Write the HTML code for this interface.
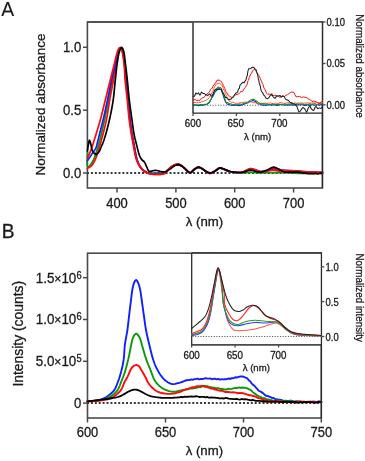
<!DOCTYPE html>
<html><head><meta charset="utf-8">
<style>
html,body{margin:0;padding:0;background:#fff;}
body{width:365px;height:461px;overflow:hidden;position:relative;}
svg{position:absolute;left:0;top:0;}
text{font-family:"Liberation Sans",sans-serif;fill:#1a1a1a;stroke:#1a1a1a;stroke-width:0.3px;}
svg{will-change:transform;}
</style></head>
<body>
<svg width="365" height="461" viewBox="0 0 365 461">
<rect width="365" height="461" fill="#fff"/>
<rect x="87.4" y="22" width="235.1" height="166" fill="none" stroke="#4a4a4a" stroke-width="1.6"/>
<line x1="83" y1="173.0" x2="87.6" y2="173.0" stroke="#4a4a4a" stroke-width="1.5"/>
<line x1="83" y1="110.2" x2="87.6" y2="110.2" stroke="#4a4a4a" stroke-width="1.5"/>
<line x1="83" y1="47.3" x2="87.6" y2="47.3" stroke="#4a4a4a" stroke-width="1.5"/>
<line x1="117.0" y1="188" x2="117.0" y2="192.5" stroke="#4a4a4a" stroke-width="1.5"/>
<line x1="175.9" y1="188" x2="175.9" y2="192.5" stroke="#4a4a4a" stroke-width="1.5"/>
<line x1="234.7" y1="188" x2="234.7" y2="192.5" stroke="#4a4a4a" stroke-width="1.5"/>
<line x1="293.6" y1="188" x2="293.6" y2="192.5" stroke="#4a4a4a" stroke-width="1.5"/>
<line x1="87" y1="173" x2="322" y2="173" stroke="#3a3a3a" stroke-width="2" stroke-dasharray="2 1.93"/>
<path d="M87.60,152.20 C87.60,157.00 86.33,165.78 87.60,166.60 C88.12,166.93 89.06,166.23 89.80,165.60 C91.03,164.55 92.56,161.84 93.50,160.00 C94.32,158.41 94.61,157.33 95.30,155.30 C96.52,151.68 98.36,145.46 99.80,140.00 C101.44,133.80 103.03,126.68 104.50,120.00 C105.96,113.34 107.27,106.67 108.60,100.00 C109.93,93.34 111.18,86.49 112.50,80.00 C113.75,73.84 115.24,67.27 116.30,62.00 C117.13,57.89 117.46,53.57 118.40,51.00 C118.95,49.48 119.63,47.63 120.30,47.60 C120.94,47.57 121.74,49.13 122.30,50.50 C123.32,52.99 123.75,57.73 124.30,62.00 C124.98,67.32 125.21,73.85 125.80,80.00 C126.43,86.50 127.30,93.33 128.00,100.00 C128.70,106.66 129.28,113.82 130.00,120.00 C130.63,125.36 131.28,130.65 132.00,135.00 C132.56,138.39 133.11,140.57 133.80,144.00 C134.71,148.57 135.59,155.82 137.00,160.00 C137.97,162.88 139.02,165.06 140.40,167.00 C141.61,168.70 143.04,170.19 144.60,171.20 C146.03,172.13 147.54,172.65 149.30,173.00 C151.39,173.42 154.17,173.17 156.40,173.20 C158.38,173.23 160.43,173.30 162.00,173.20 C163.16,173.12 164.09,173.24 165.00,172.80 C166.01,172.31 166.62,171.14 167.70,170.20 C169.15,168.94 171.13,166.94 173.00,166.00 C174.68,165.16 176.77,164.52 178.30,164.60 C179.51,164.66 180.54,165.25 181.50,165.80 C182.43,166.33 182.99,166.98 184.00,167.80 C185.59,169.09 188.29,172.79 190.10,172.80 C191.54,172.81 192.62,170.62 194.00,169.70 C195.39,168.78 197.04,167.39 198.40,167.30 C199.51,167.23 200.40,167.94 201.50,168.50 C202.89,169.21 204.52,170.57 206.00,171.40 C207.35,172.15 208.59,173.29 210.00,173.30 C211.57,173.31 213.39,171.88 215.00,171.00 C216.62,170.11 218.17,168.20 219.70,168.00 C220.99,167.83 222.10,168.71 223.50,169.20 C225.28,169.82 227.43,170.93 229.50,171.50 C231.60,172.07 233.79,172.38 236.00,172.60 C238.26,172.82 240.55,172.83 242.90,172.80 C245.37,172.77 247.80,172.40 250.50,172.40 C253.58,172.40 256.86,172.85 260.40,172.90 C264.48,172.96 269.69,172.64 273.60,172.60 C276.71,172.56 278.73,172.53 282.00,172.60 C286.58,172.70 292.48,173.17 298.50,173.30 C305.75,173.45 314.50,173.30 322.50,173.30" fill="none" stroke="#0a9a0a" stroke-width="1.7" stroke-linejoin="round" stroke-linecap="round"/>
<path d="M87.40,168.50 C88.67,167.73 90.05,167.34 91.20,166.20 C92.67,164.74 94.03,161.94 95.00,160.00 C95.80,158.42 96.12,157.47 96.80,155.50 C98.05,151.90 99.89,145.51 101.40,140.00 C103.10,133.77 105.01,126.70 106.40,120.00 C107.78,113.36 108.52,106.66 109.70,100.00 C110.88,93.33 112.32,86.50 113.50,80.00 C114.61,73.85 115.67,67.26 116.60,62.00 C117.33,57.88 117.68,53.57 118.60,51.00 C119.14,49.48 119.83,47.63 120.50,47.60 C121.14,47.57 121.95,49.13 122.50,50.50 C123.51,52.99 123.86,57.73 124.40,62.00 C125.07,67.32 125.39,73.85 126.00,80.00 C126.65,86.49 127.50,93.33 128.20,100.00 C128.90,106.66 129.48,113.82 130.20,120.00 C130.83,125.36 131.48,130.65 132.20,135.00 C132.76,138.39 133.31,140.57 134.00,144.00 C134.91,148.57 135.82,155.82 137.20,160.00 C138.15,162.88 139.15,165.05 140.50,167.00 C141.68,168.69 143.09,170.05 144.60,171.20 C146.04,172.30 147.51,173.27 149.30,173.80 C151.37,174.41 154.17,174.24 156.40,174.30 C158.38,174.35 160.44,174.44 162.00,174.20 C163.17,174.02 164.11,173.90 165.00,173.30 C166.04,172.60 166.58,171.11 167.70,170.00 C169.11,168.61 171.17,166.78 173.00,165.80 C174.62,164.94 176.49,164.13 178.00,164.20 C179.28,164.26 180.46,165.10 181.50,165.70 C182.44,166.25 183.00,166.79 184.00,167.60 C185.60,168.89 188.29,172.78 190.10,172.80 C191.54,172.81 192.63,170.54 194.00,169.60 C195.34,168.68 196.86,167.31 198.20,167.20 C199.34,167.10 200.35,167.82 201.50,168.40 C202.93,169.12 204.52,170.52 206.00,171.40 C207.35,172.20 208.59,173.49 210.00,173.50 C211.57,173.52 213.40,171.93 215.00,171.00 C216.57,170.09 217.99,168.24 219.50,168.00 C220.82,167.79 222.05,168.61 223.50,169.10 C225.31,169.71 227.43,170.95 229.50,171.50 C231.59,172.05 233.80,172.25 236.00,172.40 C238.26,172.56 240.57,172.76 242.90,172.40 C245.40,172.01 247.78,170.15 250.50,170.00 C253.56,169.84 256.85,171.89 260.40,172.00 C264.47,172.13 269.70,170.16 273.60,170.20 C276.72,170.23 278.66,171.20 282.00,171.50 C286.86,171.94 293.67,171.84 300.00,172.00 C307.08,172.18 315.00,172.33 322.50,172.50" fill="none" stroke="#ff0a0a" stroke-width="1.7" stroke-linejoin="round" stroke-linecap="round"/>
<path d="M87.60,160.50 C89.03,158.33 90.49,156.12 91.90,154.00 C93.26,151.96 94.91,150.20 95.90,148.00 C96.93,145.72 97.09,143.62 97.90,140.50 C99.24,135.35 101.49,126.80 103.10,120.00 C104.69,113.30 106.10,106.67 107.50,100.00 C108.90,93.34 110.08,86.48 111.50,80.00 C112.85,73.83 114.60,67.27 115.80,62.00 C116.74,57.89 117.20,53.57 118.20,51.00 C118.79,49.48 119.51,47.62 120.20,47.60 C120.85,47.58 121.64,49.13 122.20,50.50 C123.22,52.99 123.66,57.72 124.20,62.00 C124.87,67.32 125.02,73.85 125.60,80.00 C126.21,86.50 127.10,93.33 127.80,100.00 C128.50,106.66 129.06,113.82 129.80,120.00 C130.44,125.37 131.18,130.64 131.90,135.00 C132.46,138.39 132.92,140.57 133.60,144.00 C134.50,148.57 135.48,155.82 136.90,160.00 C137.88,162.88 138.92,165.06 140.30,167.00 C141.51,168.70 142.94,170.14 144.50,171.20 C145.96,172.20 147.50,172.88 149.30,173.30 C151.40,173.78 154.17,173.57 156.40,173.60 C158.38,173.62 160.43,173.67 162.00,173.50 C163.16,173.37 164.09,173.39 165.00,172.90 C166.01,172.36 166.62,171.17 167.70,170.20 C169.14,168.92 171.13,166.90 173.00,166.00 C174.68,165.20 176.77,164.70 178.30,164.80 C179.51,164.88 180.54,165.45 181.50,166.00 C182.43,166.53 182.98,167.19 184.00,168.00 C185.59,169.26 188.29,172.79 190.10,172.80 C191.54,172.81 192.62,170.68 194.00,169.80 C195.39,168.91 197.04,167.60 198.40,167.50 C199.51,167.42 200.40,168.06 201.50,168.60 C202.90,169.29 204.52,170.66 206.00,171.50 C207.35,172.27 208.59,173.50 210.00,173.50 C211.57,173.50 213.38,171.89 215.00,171.00 C216.61,170.12 218.18,168.40 219.70,168.20 C221.00,168.03 222.10,168.83 223.50,169.30 C225.28,169.90 227.43,171.08 229.50,171.60 C231.59,172.12 233.80,172.30 236.00,172.40 C238.26,172.51 241.10,172.69 242.90,172.20 C244.19,171.85 244.85,171.04 246.00,170.50 C247.34,169.87 249.03,168.82 250.50,168.70 C251.86,168.59 253.05,169.20 254.50,169.60 C256.29,170.09 258.36,171.34 260.40,171.50 C262.52,171.67 264.81,170.96 267.00,170.50 C269.21,170.03 271.61,168.83 273.60,168.70 C275.20,168.60 276.57,169.06 278.00,169.30 C279.37,169.53 280.20,169.86 282.00,170.10 C285.62,170.58 293.40,170.82 298.50,171.20 C302.90,171.53 306.75,172.00 310.80,172.20 C314.75,172.39 318.60,172.33 322.50,172.40" fill="none" stroke="#1020ff" stroke-width="1.7" stroke-linejoin="round" stroke-linecap="round"/>
<path d="M87.60,157.90 C88.80,155.13 90.11,152.49 91.20,149.60 C92.35,146.54 93.12,143.79 94.30,140.00 C96.00,134.55 98.46,126.69 100.30,120.00 C102.13,113.35 103.63,106.67 105.30,100.00 C106.97,93.33 108.68,86.49 110.30,80.00 C111.84,73.84 113.48,67.19 114.80,62.00 C115.81,58.03 116.51,54.11 117.50,51.50 C118.13,49.84 118.77,47.68 119.50,47.60 C120.12,47.53 120.92,48.79 121.50,50.00 C122.65,52.39 123.31,57.57 123.90,62.00 C124.61,67.37 124.56,73.85 125.10,80.00 C125.67,86.50 126.62,93.33 127.30,100.00 C127.98,106.66 128.43,113.82 129.20,120.00 C129.87,125.37 130.78,130.64 131.50,135.00 C132.06,138.38 132.43,140.58 133.10,144.00 C133.99,148.58 135.04,155.83 136.50,160.00 C137.51,162.89 138.61,165.05 140.00,167.00 C141.20,168.69 142.55,170.07 144.10,171.20 C145.65,172.33 147.37,173.26 149.30,173.80 C151.43,174.40 154.17,174.35 156.40,174.40 C158.38,174.45 160.44,174.46 162.00,174.20 C163.17,174.01 164.11,173.90 165.00,173.30 C166.04,172.60 166.59,171.13 167.70,170.00 C169.12,168.55 171.15,166.53 173.00,165.50 C174.61,164.61 176.50,163.81 178.00,163.90 C179.29,163.98 180.47,164.86 181.50,165.50 C182.44,166.08 182.99,166.66 184.00,167.50 C185.60,168.83 188.29,172.79 190.10,172.80 C191.54,172.81 192.63,170.47 194.00,169.50 C195.34,168.55 196.86,167.11 198.20,167.00 C199.34,166.91 200.35,167.69 201.50,168.30 C202.93,169.06 204.52,170.50 206.00,171.40 C207.35,172.21 208.59,173.49 210.00,173.50 C211.57,173.52 213.41,171.95 215.00,171.00 C216.58,170.05 217.98,168.05 219.50,167.80 C220.82,167.58 222.05,168.48 223.50,169.00 C225.31,169.65 227.42,170.97 229.50,171.50 C231.59,172.03 233.80,172.11 236.00,172.20 C238.26,172.29 241.09,172.44 242.90,172.00 C244.18,171.69 244.87,171.03 246.00,170.50 C247.36,169.87 249.02,168.63 250.50,168.50 C251.85,168.38 253.05,169.07 254.50,169.50 C256.29,170.02 258.36,171.32 260.40,171.50 C262.52,171.69 264.82,170.99 267.00,170.50 C269.22,170.00 271.61,168.64 273.60,168.50 C275.20,168.39 276.57,168.94 278.00,169.20 C279.37,169.45 280.20,169.76 282.00,170.00 C285.62,170.48 293.40,170.72 298.50,171.10 C302.90,171.43 306.75,171.90 310.80,172.10 C314.75,172.29 318.60,172.23 322.50,172.30" fill="none" stroke="#ff0a0a" stroke-width="1.7" stroke-linejoin="round" stroke-linecap="round"/>
<path d="M87.40,151.00 L87.61,149.48 L87.82,147.96 L88.04,146.45 L88.30,145.00 L88.66,143.01 L89.07,141.08 L89.50,140.20 L90.14,141.55 L90.80,144.00 L91.15,145.54 L91.46,147.25 L91.82,148.93 L92.30,150.40 L93.38,152.29 L94.60,153.70 L96.30,154.60 L98.50,152.60 L99.30,151.28 L100.00,149.80 L100.79,148.00 L101.60,146.00 L102.16,144.68 L102.74,143.32 L103.36,141.79 L104.00,140.00 L104.37,138.85 L104.77,137.58 L105.18,136.20 L105.61,134.73 L106.05,133.18 L106.49,131.57 L106.93,129.92 L107.37,128.25 L107.81,126.56 L108.23,124.87 L108.64,123.21 L109.03,121.58 L109.40,120.00 L109.75,118.47 L110.09,116.93 L110.42,115.40 L110.74,113.86 L111.05,112.33 L111.35,110.79 L111.65,109.25 L111.93,107.71 L112.21,106.17 L112.47,104.63 L112.72,103.09 L112.97,101.54 L113.20,100.00 L113.42,98.46 L113.61,96.92 L113.80,95.37 L113.97,93.82 L114.12,92.27 L114.27,90.72 L114.42,89.17 L114.56,87.62 L114.70,86.08 L114.84,84.55 L114.99,83.02 L115.14,81.50 L115.30,80.00 L115.47,78.45 L115.63,76.89 L115.80,75.33 L115.96,73.76 L116.13,72.20 L116.29,70.66 L116.46,69.13 L116.64,67.63 L116.82,66.16 L117.00,64.73 L117.20,63.34 L117.40,62.00 L117.68,60.23 L117.95,58.47 L118.23,56.76 L118.52,55.13 L118.84,53.60 L119.20,52.21 L119.60,51.00 L120.63,48.60 L121.70,47.40 L122.70,48.61 L123.60,51.00 L123.93,52.22 L124.20,53.60 L124.42,55.13 L124.61,56.77 L124.80,58.48 L124.99,60.23 L125.20,62.00 L125.37,63.34 L125.55,64.73 L125.73,66.17 L125.90,67.64 L126.08,69.14 L126.26,70.66 L126.44,72.21 L126.61,73.76 L126.79,75.33 L126.96,76.89 L127.13,78.45 L127.30,80.00 L127.46,81.50 L127.61,83.02 L127.76,84.54 L127.91,86.08 L128.05,87.62 L128.20,89.16 L128.34,90.71 L128.49,92.26 L128.64,93.81 L128.80,95.37 L128.96,96.91 L129.12,98.46 L129.30,100.00 L129.49,101.55 L129.68,103.11 L129.88,104.68 L130.09,106.25 L130.30,107.83 L130.51,109.40 L130.73,110.96 L130.94,112.52 L131.16,114.06 L131.37,115.58 L131.59,117.08 L131.80,118.56 L132.00,120.00 L132.22,121.61 L132.44,123.20 L132.65,124.78 L132.86,126.34 L133.07,127.88 L133.28,129.39 L133.49,130.86 L133.72,132.29 L133.95,133.67 L134.20,135.00 L134.54,136.63 L134.88,138.14 L135.24,139.58 L135.61,141.01 L136.00,142.47 L136.40,144.00 L136.80,145.62 L137.21,147.35 L137.64,149.13 L138.08,150.89 L138.53,152.58 L139.01,154.14 L139.50,155.50 L140.29,157.28 L141.12,158.79 L142.00,160.00 L144.00,161.50 L144.94,163.01 L145.83,164.93 L146.70,166.80 L147.44,168.54 L148.16,170.24 L149.00,171.30 L151.00,171.20 L152.40,170.90 L154.01,170.49 L155.60,170.30 L157.06,170.51 L158.51,170.94 L160.00,171.30 L161.64,171.62 L163.33,171.88 L165.00,171.80 L166.40,171.30 L167.80,170.51 L169.18,169.59 L170.50,168.70 L172.05,167.57 L173.53,166.41 L175.00,165.50 L176.87,164.79 L178.70,164.60 L180.42,165.22 L182.00,166.20 L184.20,168.00 L185.25,168.97 L186.50,170.23 L187.83,171.49 L189.14,172.44 L190.30,172.80 L191.58,172.13 L192.75,170.76 L194.00,169.50 L195.49,168.46 L197.08,167.54 L198.60,167.10 L200.32,167.54 L202.00,168.50 L203.34,169.42 L204.70,170.49 L206.10,171.40 L208.11,172.35 L210.20,172.80 L211.78,172.56 L213.40,171.96 L215.00,171.20 L216.66,170.04 L218.28,168.69 L219.90,167.90 L221.92,168.18 L224.00,169.00 L225.35,169.51 L226.77,170.10 L228.22,170.70 L229.70,171.20 L231.23,171.61 L232.80,171.95 L234.39,172.22 L236.00,172.40 L237.69,172.49 L239.41,172.50 L241.15,172.40 L242.90,172.20 L244.44,171.84 L246.02,171.31 L247.59,170.75 L249.10,170.30 L250.50,170.10 L252.07,170.30 L253.51,170.76 L255.00,171.20 L256.75,171.65 L258.55,172.08 L260.40,172.20 L262.01,171.91 L263.67,171.35 L265.34,170.67 L267.00,170.00 L268.69,169.22 L270.39,168.31 L272.04,167.54 L273.60,167.20 L275.11,167.45 L276.53,168.08 L278.00,168.80 L279.31,169.49 L280.61,170.30 L282.04,171.13 L283.70,171.76 L285.03,171.90 L286.52,172.24 L288.14,172.26 L289.85,172.02 L291.61,172.47 L293.40,172.05 L295.16,172.06 L296.88,172.17 L298.50,172.36 L300.10,172.18 L301.66,172.74 L303.21,173.04 L304.74,173.02 L306.26,173.41 L307.77,173.46 L309.28,173.74 L310.80,173.38 L312.49,173.54 L314.16,173.61 L315.83,173.30 L317.50,173.84 L319.16,173.53 L320.83,173.08 L322.50,173.30" fill="none" stroke="#000000" stroke-width="1.7" stroke-linejoin="round" stroke-linecap="round"/>
<rect x="193" y="22" width="129.5" height="91.2" fill="#fff"/>
<line x1="87.4" y1="22" x2="322.5" y2="22" stroke="#4a4a4a" stroke-width="1.6"/>
<line x1="193" y1="22" x2="193" y2="113.2" stroke="#4a4a4a" stroke-width="1.7"/>
<line x1="193" y1="113.2" x2="322.4" y2="113.2" stroke="#262626" stroke-width="1.25"/>
<line x1="322.4" y1="21.4" x2="322.4" y2="188" stroke="#2a2a2a" stroke-width="1.25"/>
<line x1="193.0" y1="113.2" x2="193.0" y2="116" stroke="#4a4a4a" stroke-width="1.3"/>
<line x1="236.4" y1="113.2" x2="236.4" y2="116" stroke="#4a4a4a" stroke-width="1.3"/>
<line x1="279.8" y1="113.2" x2="279.8" y2="116" stroke="#4a4a4a" stroke-width="1.3"/>
<line x1="322.5" y1="22.0" x2="325.5" y2="22.0" stroke="#4a4a4a" stroke-width="1.3"/>
<line x1="322.5" y1="63.5" x2="325.5" y2="63.5" stroke="#4a4a4a" stroke-width="1.3"/>
<line x1="322.5" y1="104.8" x2="325.5" y2="104.8" stroke="#4a4a4a" stroke-width="1.3"/>
<line x1="194" y1="105.3" x2="322" y2="105.3" stroke="#5a5a5a" stroke-width="1.1" stroke-dasharray="1.1 1.55"/>
<path d="M193.00,105.00 L194.78,105.02 L196.57,105.21 L198.33,105.63 L200.00,105.17 L201.76,105.17 L203.43,105.16 L205.00,104.48 L206.99,104.17 L208.80,103.13 L209.73,102.22 L210.59,100.15 L211.41,98.82 L212.21,97.04 L213.00,96.31 L213.88,94.55 L214.73,92.22 L215.58,91.64 L216.50,90.46 L217.85,89.12 L219.20,88.72 L221.50,90.16 L222.09,91.30 L222.50,93.35 L223.00,94.56 L223.51,96.24 L224.03,98.06 L224.64,99.65 L225.37,101.70 L226.30,102.94 L227.51,104.24 L228.91,104.52 L230.43,105.05 L232.00,105.20 L233.50,105.52 L235.09,105.33 L236.73,105.06 L238.38,105.61 L240.00,105.40 L241.64,104.98 L243.30,104.52 L244.95,103.74 L246.53,103.21 L248.00,102.79 L249.82,101.59 L251.48,101.22 L253.20,100.40 L254.43,101.21 L255.66,101.58 L256.92,103.18 L258.25,104.05 L259.70,103.90 L261.16,104.46 L262.62,105.34 L264.17,104.96 L265.87,105.47 L267.79,104.87 L270.00,104.57 L270.95,105.15 L271.97,105.32 L273.05,104.83 L274.18,104.66 L275.37,104.92 L276.61,105.56 L277.90,105.36 L279.24,104.72 L280.62,104.85 L282.04,104.70 L283.50,104.66 L285.00,105.39 L286.52,104.76 L288.08,105.13 L289.66,105.01 L291.27,104.74 L292.90,105.27 L294.54,104.66 L296.20,105.16 L297.87,104.62 L299.55,104.90 L301.24,104.68 L302.93,104.72 L304.63,105.41 L306.32,105.22 L308.00,104.71 L309.68,105.27 L311.35,104.59 L313.01,104.75 L314.65,105.20 L316.27,104.98 L317.86,104.42 L319.44,105.30 L320.98,104.52 L322.50,104.80" fill="none" stroke="#1020ff" stroke-width="1.05" stroke-linejoin="round" stroke-linecap="round"/>
<path d="M193.30,102.80 L195.00,102.46 L196.72,102.80 L198.40,102.68 L200.00,102.65 L201.76,101.68 L203.43,101.32 L205.00,100.65 L206.42,99.96 L207.74,99.51 L209.00,97.63 L209.78,96.97 L210.53,95.35 L211.27,93.98 L211.99,92.60 L212.68,91.50 L213.35,89.85 L214.00,88.01 L215.02,86.31 L215.98,84.40 L217.00,83.87 L219.20,83.11 L221.50,84.81 L222.19,85.93 L222.80,87.23 L223.39,88.94 L224.00,90.29 L224.59,91.13 L225.21,93.18 L225.82,94.29 L226.42,95.97 L227.00,97.06 L227.84,99.14 L229.00,100.86 L230.23,101.70 L231.78,102.16 L233.44,102.37 L235.00,103.32 L236.63,103.31 L238.22,103.29 L240.00,102.79 L241.47,102.56 L243.08,102.64 L244.79,101.92 L246.54,102.38 L248.30,102.12 L250.00,101.88 L251.63,102.02 L253.21,102.55 L254.78,102.53 L256.41,102.99 L258.13,103.36 L260.00,103.30 L261.31,103.08 L262.70,103.46 L264.14,103.20 L265.64,103.18 L267.19,103.10 L268.77,103.22 L270.37,102.87 L271.99,103.39 L273.62,103.63 L275.24,103.00 L276.85,103.28 L278.44,103.46 L280.00,102.54 L281.54,102.63 L283.07,103.29 L284.59,103.31 L286.12,103.12 L287.64,102.64 L289.16,102.90 L290.69,103.36 L292.22,103.38 L293.76,103.30 L295.30,102.71 L296.86,103.36 L298.42,102.88 L300.00,103.22 L301.46,102.63 L302.93,103.45 L304.42,103.08 L305.91,103.18 L307.40,102.66 L308.90,103.05 L310.41,103.00 L311.92,103.00 L313.44,102.75 L314.95,103.10 L316.47,102.70 L317.98,102.64 L319.49,102.49 L321.00,103.00 L322.50,102.80" fill="none" stroke="#ff5a40" stroke-width="1.0" stroke-linejoin="round" stroke-linecap="round"/>
<path d="M193.00,104.30 L194.78,104.48 L196.57,104.89 L198.33,105.09 L200.00,104.64 L201.76,104.49 L203.44,104.72 L205.00,104.27 L206.99,103.98 L208.80,102.49 L209.73,101.25 L210.59,99.78 L211.41,98.29 L212.21,96.16 L213.00,94.94 L213.89,92.90 L214.72,91.82 L215.58,89.32 L216.50,88.82 L217.85,86.97 L219.20,87.19 L220.43,87.54 L221.50,88.90 L222.30,91.13 L223.00,92.52 L223.43,93.90 L223.86,96.32 L224.32,97.57 L224.85,98.78 L225.50,101.13 L226.30,102.25 L227.50,102.43 L228.90,103.49 L230.42,103.74 L232.00,104.31 L233.49,104.85 L235.07,104.48 L236.71,104.97 L238.36,104.18 L240.00,104.07 L241.49,104.42 L243.04,103.61 L244.60,103.15 L246.11,102.80 L247.52,102.13 L248.80,101.48 L250.38,100.06 L251.74,99.63 L253.20,99.37 L254.39,99.76 L255.60,100.36 L256.88,101.22 L258.23,102.35 L259.70,103.49 L261.20,103.91 L262.78,103.63 L264.45,103.91 L266.20,104.13 L268.05,104.33 L270.00,104.71 L271.31,104.45 L272.66,104.02 L274.06,104.83 L275.51,104.44 L276.99,104.52 L278.51,104.21 L280.07,104.39 L281.65,104.32 L283.27,104.67 L284.92,103.97 L286.59,104.39 L288.29,103.99 L290.00,104.50 L291.38,103.83 L292.79,104.06 L294.23,104.11 L295.70,104.39 L297.20,103.79 L298.71,104.19 L300.25,103.92 L301.81,103.98 L303.38,104.16 L304.96,104.63 L306.56,104.14 L308.16,104.59 L309.77,103.79 L311.38,104.53 L312.99,103.96 L314.59,103.76 L316.19,104.31 L317.79,104.46 L319.37,103.54 L320.94,103.78 L322.50,104.00" fill="none" stroke="#0a9a0a" stroke-width="1.05" stroke-linejoin="round" stroke-linecap="round"/>
<path d="M193.30,100.20 L195.01,99.50 L196.74,100.43 L198.43,100.22 L200.00,100.30 L201.36,98.56 L202.62,97.66 L203.82,97.41 L205.00,96.25 L206.23,94.58 L207.42,94.02 L208.58,92.33 L209.70,91.64 L210.62,89.40 L211.51,88.30 L212.37,88.09 L213.20,85.95 L214.00,84.62 L215.03,83.89 L216.00,82.11 L217.00,80.24 L219.20,80.08 L220.39,80.97 L221.50,81.46 L222.15,83.37 L222.71,83.89 L223.29,85.72 L224.00,86.83 L224.78,88.49 L225.67,91.39 L226.64,92.18 L227.63,94.72 L228.60,95.18 L229.50,96.37 L232.00,97.60 L233.95,96.52 L236.00,94.38 L237.33,94.52 L238.66,93.95 L240.00,92.39 L241.11,91.40 L242.26,91.67 L243.41,89.99 L244.51,88.26 L245.50,87.32 L246.26,85.59 L246.92,84.98 L247.52,82.84 L248.08,80.49 L248.65,79.95 L249.24,77.18 L249.90,76.05 L250.71,74.01 L251.56,73.44 L252.43,70.89 L253.31,70.42 L254.20,69.25 L255.49,70.51 L256.81,72.51 L258.10,74.26 L258.82,75.34 L259.53,76.79 L260.24,78.27 L260.93,80.16 L261.62,81.02 L262.30,83.27 L262.96,84.45 L263.60,86.88 L264.34,88.77 L265.00,89.16 L265.67,90.95 L266.44,93.27 L267.40,94.11 L269.05,93.90 L270.94,95.15 L272.90,95.71 L274.65,95.25 L276.50,95.55 L278.33,96.30 L280.00,97.20 L282.27,96.55 L284.30,96.58 L285.94,95.29 L287.60,94.61 L289.33,93.35 L291.23,92.10 L292.90,92.12 L293.97,92.48 L294.84,94.45 L296.00,96.77 L297.57,96.66 L299.44,96.36 L301.44,97.55 L303.40,96.97 L304.81,97.30 L306.23,97.57 L307.66,98.45 L309.10,99.23 L310.54,99.93 L312.00,101.50 L313.83,101.12 L315.80,101.71 L317.71,102.77 L319.41,103.52 L320.70,102.37 L321.75,102.08 L322.50,100.30" fill="none" stroke="#ff0a0a" stroke-width="1.0" stroke-linejoin="round" stroke-linecap="round"/>
<path d="M193.30,96.20 L194.53,96.28 L195.77,92.96 L197.00,94.07 L198.51,92.90 L200.00,95.17 L201.51,92.03 L203.00,93.41 L204.47,93.56 L206.00,94.86 L207.92,95.39 L209.70,93.88 L211.50,96.11 L212.34,96.09 L213.18,93.21 L214.00,91.43 L214.96,89.67 L216.00,89.86 L218.10,89.00 L220.00,89.21 L221.25,89.29 L222.50,93.02 L223.22,93.29 L223.97,94.09 L224.74,96.13 L225.52,97.36 L226.30,97.49 L228.60,99.66 L230.70,99.26 L231.85,98.20 L233.00,97.03 L234.56,94.92 L236.20,92.77 L236.99,92.69 L237.75,91.60 L238.49,88.91 L239.24,88.59 L240.00,85.15 L241.50,83.71 L243.00,82.21 L244.03,82.90 L245.05,81.12 L246.00,79.73 L246.52,77.42 L246.96,76.35 L247.36,75.57 L247.75,71.93 L248.18,70.33 L248.68,68.75 L249.30,68.72 L250.90,68.29 L252.60,67.23 L253.96,67.61 L255.30,69.33 L256.40,70.23 L257.00,73.50 L257.40,73.65 L257.71,75.07 L258.10,77.05 L258.45,79.73 L258.80,80.09 L259.17,83.15 L259.55,83.46 L259.94,85.36 L260.36,86.04 L260.80,89.48 L261.41,91.05 L262.04,92.02 L262.74,92.74 L263.60,94.98 L264.75,96.00 L266.06,98.16 L267.40,98.83 L268.86,97.67 L270.37,95.21 L271.80,93.90 L273.37,97.04 L275.00,98.37 L276.58,96.08 L278.32,95.97 L280.00,95.45 L281.45,97.06 L282.85,95.66 L284.30,96.65 L285.67,99.39 L287.09,99.72 L288.51,100.46 L289.90,102.17 L291.65,102.75 L293.36,103.97 L294.80,104.01 L295.99,105.24 L297.00,106.82 L297.87,109.21 L298.77,111.61 L299.70,111.71 L300.77,110.35 L301.87,108.60 L303.00,107.49 L304.18,108.37 L305.40,109.85 L306.50,112.17 L307.36,110.70 L308.09,108.39 L309.00,106.94 L309.98,105.52 L311.12,108.77 L312.27,109.69 L313.30,110.53 L314.22,109.91 L315.04,107.27 L316.00,106.40 L317.71,108.75 L319.50,107.89 L321.03,108.54 L322.50,106.40" fill="none" stroke="#222" stroke-width="1.05" stroke-linejoin="round" stroke-linecap="round"/>
<rect x="87.5" y="253.2" width="233.8" height="164.8" fill="none" stroke="#4a4a4a" stroke-width="1.6"/>
<line x1="83" y1="403.1" x2="87.5" y2="403.1" stroke="#4a4a4a" stroke-width="1.5"/>
<line x1="83" y1="361.3" x2="87.5" y2="361.3" stroke="#4a4a4a" stroke-width="1.5"/>
<line x1="83" y1="319.5" x2="87.5" y2="319.5" stroke="#4a4a4a" stroke-width="1.5"/>
<line x1="83" y1="277.7" x2="87.5" y2="277.7" stroke="#4a4a4a" stroke-width="1.5"/>
<line x1="87.5" y1="418" x2="87.5" y2="422.5" stroke="#4a4a4a" stroke-width="1.5"/>
<line x1="165.5" y1="418" x2="165.5" y2="422.5" stroke="#4a4a4a" stroke-width="1.5"/>
<line x1="243.5" y1="418" x2="243.5" y2="422.5" stroke="#4a4a4a" stroke-width="1.5"/>
<line x1="321.3" y1="418" x2="321.3" y2="422.5" stroke="#4a4a4a" stroke-width="1.5"/>
<line x1="87" y1="403" x2="321" y2="403" stroke="#3a3a3a" stroke-width="2" stroke-dasharray="2 1.9"/>
<path d="M87.50,401.40 L89.01,401.25 L90.54,401.10 L92.06,400.95 L93.56,400.79 L95.00,400.60 L96.56,400.38 L98.08,400.16 L99.55,399.88 L101.00,399.50 L102.88,398.80 L104.69,397.94 L106.40,397.00 L107.84,396.09 L109.19,395.10 L110.50,394.00 L111.58,393.02 L112.66,391.97 L113.68,390.84 L114.60,389.60 L115.45,388.10 L116.17,386.47 L116.84,384.75 L117.50,383.00 L118.09,381.47 L118.66,379.92 L119.22,378.31 L119.76,376.62 L120.30,374.80 L120.66,373.50 L121.02,372.13 L121.39,370.70 L121.75,369.22 L122.10,367.71 L122.45,366.17 L122.77,364.61 L123.08,363.06 L123.35,361.52 L123.60,360.00 L123.81,358.48 L123.97,356.96 L124.10,355.43 L124.21,353.89 L124.30,352.35 L124.39,350.81 L124.48,349.27 L124.59,347.74 L124.73,346.22 L124.90,344.70 L125.13,343.03 L125.40,341.35 L125.69,339.67 L125.99,337.99 L126.30,336.32 L126.61,334.68 L126.90,333.07 L127.17,331.51 L127.40,330.00 L127.64,328.26 L127.84,326.65 L128.02,325.10 L128.20,323.52 L128.39,321.84 L128.60,320.00 L128.76,318.67 L128.93,317.24 L129.11,315.73 L129.29,314.16 L129.48,312.54 L129.68,310.89 L129.87,309.23 L130.07,307.57 L130.27,305.94 L130.46,304.35 L130.65,302.82 L130.83,301.36 L131.00,300.00 L131.22,298.23 L131.42,296.54 L131.61,294.91 L131.81,293.34 L132.02,291.84 L132.24,290.39 L132.50,289.00 L132.89,287.11 L133.30,285.31 L133.76,283.67 L134.30,282.30 L135.17,280.70 L136.10,279.90 L137.02,280.70 L137.90,282.30 L138.50,283.68 L139.04,285.31 L139.54,287.11 L140.00,289.00 L140.30,290.39 L140.55,291.84 L140.79,293.34 L141.00,294.91 L141.22,296.53 L141.45,298.23 L141.70,300.00 L141.90,301.36 L142.11,302.82 L142.32,304.35 L142.54,305.94 L142.77,307.57 L143.00,309.23 L143.23,310.89 L143.45,312.54 L143.68,314.16 L143.90,315.73 L144.11,317.24 L144.31,318.67 L144.50,320.00 L144.76,321.84 L144.99,323.52 L145.21,325.10 L145.43,326.66 L145.69,328.27 L146.00,330.00 L146.26,331.36 L146.55,332.76 L146.85,334.21 L147.18,335.68 L147.52,337.17 L147.86,338.68 L148.22,340.20 L148.58,341.71 L148.94,343.21 L149.30,344.70 L149.67,346.22 L150.04,347.77 L150.41,349.34 L150.80,350.92 L151.18,352.48 L151.58,354.03 L151.98,355.54 L152.38,356.99 L152.79,358.39 L153.20,359.70 L153.82,361.54 L154.43,363.23 L155.06,364.83 L155.74,366.41 L156.50,368.00 L157.22,369.42 L158.00,370.86 L158.81,372.29 L159.66,373.68 L160.53,374.99 L161.40,376.20 L162.48,377.57 L163.58,378.83 L164.74,379.97 L166.00,381.00 L167.42,382.01 L168.94,382.94 L170.54,383.67 L172.20,384.13 L173.69,384.14 L175.26,383.84 L176.86,383.30 L178.45,383.08 L180.00,382.68 L181.71,382.03 L183.33,381.50 L185.04,380.73 L187.00,380.05 L188.26,380.15 L189.65,380.11 L191.14,379.42 L192.71,379.86 L194.32,379.15 L195.97,378.97 L197.63,378.63 L199.26,379.34 L200.85,378.98 L202.37,379.01 L203.80,378.70 L205.52,378.15 L207.17,378.44 L208.77,378.65 L210.33,378.40 L211.88,379.25 L213.43,378.81 L215.00,378.69 L216.57,379.35 L218.16,378.81 L219.74,379.62 L221.32,379.27 L222.86,379.41 L224.36,379.22 L225.80,379.29 L227.40,378.86 L228.92,378.48 L230.40,378.94 L231.87,378.07 L233.40,378.25 L235.13,377.32 L236.93,377.48 L238.72,376.92 L240.44,376.46 L242.00,376.44 L243.80,376.72 L245.42,377.66 L247.00,378.16 L248.13,379.38 L249.22,380.76 L250.31,381.36 L251.39,383.21 L252.50,384.35 L253.71,385.19 L254.95,386.48 L256.19,387.89 L257.41,389.09 L258.60,390.75 L260.07,391.40 L261.51,392.11 L263.00,393.13 L264.54,394.61 L266.14,395.70 L268.00,396.10 L269.19,396.59 L270.47,397.17 L271.84,397.89 L273.29,397.94 L274.80,398.81 L276.36,399.24 L277.97,399.74 L279.60,399.71 L280.98,399.96 L282.40,400.34 L283.87,401.04 L285.37,400.67 L286.91,401.03 L288.48,400.87 L290.07,400.78 L291.67,400.82 L293.30,401.57 L294.93,401.60 L296.56,401.31 L298.20,401.67 L299.67,401.72 L301.15,401.98 L302.66,402.08 L304.18,401.62 L305.71,402.17 L307.26,402.17 L308.81,401.86 L310.37,402.14 L311.94,401.80 L313.51,401.70 L315.07,401.60 L316.64,402.18 L318.20,401.55 L319.75,401.49 L321.30,401.90" fill="none" stroke="#1020ff" stroke-width="1.9" stroke-linejoin="round" stroke-linecap="round"/>
<path d="M87.50,401.40 L89.08,401.27 L90.67,401.16 L92.27,401.06 L93.86,400.95 L95.45,400.83 L97.00,400.67 L98.53,400.47 L100.00,400.20 L101.75,399.80 L103.50,399.32 L105.21,398.80 L106.84,398.23 L108.35,397.62 L109.70,397.00 L111.32,396.09 L112.69,395.10 L114.00,394.00 L115.38,392.71 L116.69,391.27 L117.90,389.60 L118.59,388.36 L119.22,386.97 L119.82,385.49 L120.39,383.97 L120.94,382.45 L121.50,381.00 L122.13,379.47 L122.73,378.00 L123.32,376.51 L123.91,374.94 L124.50,373.20 L124.93,371.84 L125.37,370.36 L125.81,368.79 L126.26,367.16 L126.71,365.49 L127.14,363.80 L127.56,362.12 L127.97,360.48 L128.35,358.90 L128.70,357.40 L129.07,355.71 L129.40,354.06 L129.71,352.45 L130.00,350.88 L130.28,349.33 L130.58,347.81 L130.90,346.30 L131.24,344.67 L131.57,343.02 L131.90,341.40 L132.26,339.85 L132.69,338.44 L133.20,337.20 L134.08,335.57 L135.07,334.20 L136.10,333.60 L137.21,334.16 L138.36,335.55 L139.40,337.20 L140.00,338.43 L140.51,339.85 L140.97,341.40 L141.40,343.02 L141.83,344.67 L142.30,346.30 L142.77,347.85 L143.24,349.47 L143.72,351.13 L144.20,352.79 L144.67,354.41 L145.14,355.96 L145.60,357.40 L146.21,359.18 L146.80,360.84 L147.39,362.42 L148.00,364.00 L148.60,365.49 L149.21,366.92 L149.83,368.40 L150.50,370.00 L151.01,371.32 L151.51,372.75 L152.03,374.26 L152.58,375.78 L153.16,377.28 L153.80,378.70 L154.50,380.00 L155.46,381.49 L156.51,382.89 L157.63,384.21 L158.79,385.41 L160.00,386.50 L161.41,387.57 L162.89,388.50 L164.42,389.30 L166.00,390.00 L167.61,390.65 L169.26,391.20 L171.00,391.63 L172.90,391.74 L174.33,391.64 L175.85,391.75 L177.46,391.13 L179.13,390.69 L180.83,390.58 L182.56,389.93 L184.29,389.98 L186.00,389.06 L187.51,389.45 L189.11,388.61 L190.76,388.60 L192.44,388.63 L194.10,388.14 L195.72,388.10 L197.26,387.66 L198.70,386.83 L199.99,387.35 L201.10,386.88 L203.11,386.06 L205.00,385.62 L206.30,386.29 L207.77,386.27 L209.34,386.93 L210.97,387.16 L212.61,387.70 L214.20,387.66 L215.79,388.07 L217.38,388.29 L218.98,388.27 L220.59,389.17 L222.19,388.80 L223.80,389.35 L225.40,389.55 L227.02,389.24 L228.63,388.69 L230.24,389.18 L231.83,388.90 L233.40,388.32 L235.16,387.97 L236.91,388.09 L238.64,387.34 L240.34,387.92 L242.00,387.51 L243.95,387.68 L245.91,387.90 L247.74,388.61 L249.30,389.47 L250.95,390.27 L252.50,391.89 L253.86,393.11 L255.38,393.94 L256.99,395.26 L258.60,396.14 L260.18,396.79 L261.80,397.66 L263.42,398.10 L265.00,398.23 L266.67,399.59 L268.29,399.46 L270.30,399.94 L271.39,400.08 L272.59,400.71 L273.89,400.88 L275.28,400.62 L276.75,400.65 L278.29,400.49 L279.88,401.32 L281.52,400.77 L283.19,401.21 L284.88,401.12 L286.59,401.19 L288.30,401.29 L290.00,401.22 L291.40,401.14 L292.84,401.64 L294.30,401.92 L295.80,401.82 L297.32,401.45 L298.86,401.92 L300.42,401.36 L302.00,401.70 L303.59,402.09 L305.20,402.18 L306.81,401.78 L308.43,402.13 L310.06,401.82 L311.68,401.85 L313.31,401.91 L314.92,402.29 L316.54,402.08 L318.14,401.84 L319.73,402.09 L321.30,401.90" fill="none" stroke="#0a9a0a" stroke-width="1.9" stroke-linejoin="round" stroke-linecap="round"/>
<path d="M87.50,401.40 L89.07,401.30 L90.66,401.21 L92.26,401.12 L93.85,401.03 L95.43,400.93 L96.99,400.82 L98.52,400.68 L100.00,400.50 L101.72,400.27 L103.42,400.04 L105.09,399.77 L106.70,399.46 L108.24,399.07 L109.70,398.60 L111.43,397.87 L113.04,397.02 L114.55,396.06 L116.00,395.00 L117.43,393.81 L118.80,392.52 L120.06,391.12 L121.20,389.60 L122.01,388.18 L122.71,386.64 L123.33,385.04 L123.94,383.47 L124.60,382.00 L125.37,380.55 L126.15,379.20 L126.93,377.84 L127.70,376.40 L128.37,374.94 L129.02,373.35 L129.66,371.75 L130.32,370.27 L131.00,369.00 L132.20,367.28 L133.50,366.00 L136.20,364.80 L138.70,365.80 L139.88,367.41 L141.00,369.50 L141.74,370.74 L142.56,372.11 L143.40,373.55 L144.22,375.00 L145.00,376.40 L145.82,378.02 L146.58,379.64 L147.35,381.21 L148.20,382.70 L149.08,384.00 L150.00,385.24 L150.97,386.41 L152.00,387.50 L153.37,388.80 L154.83,389.99 L156.40,391.00 L158.15,391.83 L160.02,392.48 L162.00,393.00 L163.44,393.31 L164.95,393.56 L166.50,393.76 L168.07,393.87 L169.60,393.90 L171.46,393.83 L173.31,393.65 L175.16,393.34 L177.00,392.63 L178.52,392.42 L180.03,391.81 L181.54,391.31 L183.04,390.44 L184.50,389.93 L186.13,389.58 L187.71,388.81 L189.31,388.48 L191.00,387.57 L192.67,387.14 L194.45,387.20 L196.25,386.47 L198.02,386.20 L199.70,386.21 L201.32,385.89 L202.86,385.79 L204.39,386.72 L206.00,386.88 L207.62,387.32 L209.30,387.76 L211.01,388.60 L212.75,388.58 L214.50,389.43 L216.03,389.49 L217.60,390.10 L219.18,390.60 L220.75,390.68 L222.30,390.83 L223.80,391.48 L225.68,391.97 L227.48,392.04 L229.29,392.07 L231.20,392.43 L232.76,392.18 L234.38,392.33 L236.03,392.63 L237.70,393.25 L239.37,392.89 L241.00,393.05 L242.61,393.30 L244.25,393.55 L245.87,394.08 L247.46,394.68 L248.98,395.24 L250.40,395.15 L252.35,395.72 L254.14,396.20 L256.00,396.82 L257.35,397.74 L258.70,398.09 L260.10,398.39 L261.62,398.78 L263.30,399.86 L264.52,400.05 L265.80,400.40 L267.14,400.08 L268.53,400.55 L269.99,401.07 L271.50,400.93 L273.08,401.40 L274.71,400.83 L276.41,401.69 L278.17,400.98 L280.00,401.42 L281.21,401.14 L282.47,401.91 L283.78,401.86 L285.13,402.16 L286.51,402.05 L287.94,402.22 L289.39,401.88 L290.88,402.31 L292.40,402.11 L293.94,401.77 L295.51,402.35 L297.09,401.82 L298.69,401.66 L300.31,401.56 L301.93,401.91 L303.57,401.67 L305.21,402.34 L306.85,402.35 L308.49,401.69 L310.13,401.59 L311.77,401.97 L313.39,401.65 L315.01,401.99 L316.61,402.24 L318.19,401.75 L319.76,401.91 L321.30,402.00" fill="none" stroke="#ff0a0a" stroke-width="1.9" stroke-linejoin="round" stroke-linecap="round"/>
<path d="M87.50,401.40 L89.06,401.21 L90.65,401.02 L92.26,400.83 L93.86,400.63 L95.45,400.44 L97.01,400.25 L98.54,400.06 L100.00,399.88 L101.40,399.70 L103.26,399.46 L105.01,399.23 L106.69,399.00 L108.34,398.76 L110.00,398.50 L111.63,398.24 L113.28,397.98 L114.90,397.71 L116.45,397.39 L117.90,397.00 L119.71,396.35 L121.38,395.61 L123.00,394.80 L124.59,393.88 L126.15,392.89 L127.70,392.00 L129.14,391.30 L130.57,390.68 L132.00,390.20 L134.01,389.71 L136.00,389.60 L137.99,390.12 L140.00,391.00 L141.64,391.83 L143.32,392.79 L145.00,393.70 L146.56,394.49 L148.12,395.24 L149.90,395.90 L151.32,396.29 L152.89,396.63 L154.55,396.94 L156.28,397.20 L158.01,397.42 L159.70,397.60 L161.39,397.73 L163.09,397.81 L164.81,397.84 L166.53,397.85 L168.26,397.83 L170.00,397.80 L171.56,397.78 L173.13,397.75 L174.71,397.53 L176.30,397.69 L177.89,397.29 L179.49,397.39 L181.10,396.96 L182.77,397.25 L184.46,396.65 L186.15,396.91 L187.85,396.76 L189.54,396.66 L191.23,396.30 L192.90,396.59 L194.50,396.71 L196.10,396.08 L197.69,396.50 L199.27,396.98 L200.85,396.94 L202.43,396.84 L204.00,396.84 L205.53,397.47 L207.01,396.89 L208.49,397.55 L209.97,397.73 L211.51,397.30 L213.10,397.55 L214.80,397.64 L216.17,397.92 L217.61,397.86 L219.09,398.36 L220.62,398.47 L222.18,398.06 L223.77,398.60 L225.38,398.02 L227.00,398.13 L228.62,398.66 L230.23,398.86 L231.83,398.96 L233.40,399.19 L235.00,399.18 L236.63,398.81 L238.29,399.29 L239.95,399.54 L241.62,398.98 L243.27,399.41 L244.91,399.24 L246.53,399.35 L248.10,399.73 L249.63,400.00 L251.10,400.36 L252.50,399.81 L254.16,400.27 L255.67,400.84 L257.09,400.84 L258.49,400.84 L259.95,400.79 L261.53,401.26 L263.30,401.11 L264.56,401.49 L265.88,401.57 L267.27,401.43 L268.72,401.81 L270.21,401.54 L271.76,401.64 L273.34,401.97 L274.95,401.54 L276.60,401.52 L278.26,401.87 L279.94,401.78 L281.63,402.16 L283.32,401.69 L285.01,401.81 L286.69,401.59 L288.35,401.93 L290.00,401.85 L291.51,401.99 L293.03,402.27 L294.56,401.71 L296.10,402.50 L297.65,402.30 L299.21,402.40 L300.77,402.20 L302.34,402.25 L303.92,402.13 L305.49,402.14 L307.08,402.02 L308.66,402.10 L310.25,402.11 L311.83,402.16 L313.42,402.63 L315.00,402.56 L316.58,402.46 L318.16,401.98 L319.73,402.19 L321.30,402.40" fill="none" stroke="#000000" stroke-width="1.8" stroke-linejoin="round" stroke-linecap="round"/>
<rect x="191.6" y="253.2" width="129.7" height="91.5" fill="#fff"/>
<line x1="191.7" y1="253.0" x2="321.4" y2="253.0" stroke="#262626" stroke-width="1.3"/>
<line x1="191.7" y1="253.0" x2="191.7" y2="344.9" stroke="#262626" stroke-width="1.25"/>
<line x1="191.7" y1="344.9" x2="321.4" y2="344.9" stroke="#4a4a4a" stroke-width="1.6"/>
<line x1="321.4" y1="252.4" x2="321.4" y2="418" stroke="#2a2a2a" stroke-width="1.25"/>
<line x1="191.6" y1="344.7" x2="191.6" y2="347.5" stroke="#4a4a4a" stroke-width="1.3"/>
<line x1="235.1" y1="344.7" x2="235.1" y2="347.5" stroke="#4a4a4a" stroke-width="1.3"/>
<line x1="278.6" y1="344.7" x2="278.6" y2="347.5" stroke="#4a4a4a" stroke-width="1.3"/>
<line x1="321.3" y1="266.8" x2="324.3" y2="266.8" stroke="#4a4a4a" stroke-width="1.3"/>
<line x1="321.3" y1="301.6" x2="324.3" y2="301.6" stroke="#4a4a4a" stroke-width="1.3"/>
<line x1="321.3" y1="336.5" x2="324.3" y2="336.5" stroke="#4a4a4a" stroke-width="1.3"/>
<line x1="192.5" y1="336.5" x2="321" y2="336.5" stroke="#5a5a5a" stroke-width="1.1" stroke-dasharray="1.1 1.55"/>
<path d="M191.60,335.30 C192.73,335.03 193.70,334.90 195.00,334.50 C196.85,333.93 199.67,333.49 201.60,332.00 C203.88,330.24 205.84,327.02 207.30,324.00 C208.88,320.74 209.58,317.04 210.50,313.00 C211.60,308.19 212.32,302.25 213.20,297.00 C214.05,291.92 214.94,286.49 215.70,282.00 C216.32,278.33 216.86,274.21 217.40,272.00 C217.67,270.88 217.90,269.50 218.20,269.50 C218.55,269.50 219.04,271.54 219.40,273.00 C219.96,275.29 220.35,278.75 220.80,282.00 C221.33,285.82 221.92,290.71 222.30,294.50 C222.62,297.66 222.51,300.47 223.00,303.20 C223.45,305.71 224.38,307.84 225.00,310.30 C225.66,312.93 226.00,316.00 226.80,318.50 C227.51,320.72 228.25,322.70 229.40,324.60 C230.57,326.54 231.87,328.99 233.80,330.00 C235.82,331.06 238.63,330.63 241.40,330.60 C244.73,330.57 248.64,330.18 252.40,329.50 C256.49,328.77 260.94,327.30 265.00,326.20 C268.82,325.17 273.19,322.83 276.10,323.10 C278.11,323.28 279.37,324.45 281.00,325.50 C282.88,326.71 284.40,328.68 286.60,330.10 C289.23,331.80 292.73,333.81 295.90,334.70 C298.87,335.53 301.52,335.29 305.00,335.50 C309.64,335.78 315.87,335.83 321.30,336.00" fill="none" stroke="#ff5a40" stroke-width="1.05" stroke-linejoin="round" stroke-linecap="round"/>
<path d="M191.60,335.60 C192.73,335.40 193.70,335.34 195.00,335.00 C196.85,334.52 199.67,334.18 201.60,332.70 C203.97,330.88 206.01,327.20 207.50,324.00 C209.05,320.66 209.71,317.04 210.60,313.00 C211.66,308.19 212.34,302.25 213.20,297.00 C214.04,291.92 214.93,286.55 215.70,282.00 C216.34,278.19 216.94,273.78 217.50,271.50 C217.78,270.37 217.99,269.01 218.30,269.00 C218.67,268.99 219.19,271.00 219.60,272.50 C220.30,275.04 220.88,278.76 221.50,283.00 C222.44,289.45 222.60,300.42 224.20,307.50 C225.48,313.16 227.32,319.61 229.40,322.40 C230.50,323.88 231.61,324.45 233.00,325.00 C234.51,325.60 236.25,325.79 238.20,325.70 C240.74,325.58 243.98,324.25 246.90,323.70 C249.81,323.15 252.72,322.52 255.70,322.40 C258.75,322.27 261.76,323.04 265.00,323.00 C268.54,322.96 273.38,321.62 276.10,322.00 C277.77,322.23 278.76,322.69 280.00,323.50 C281.48,324.46 282.43,326.25 284.20,327.70 C286.64,329.70 290.15,332.75 293.60,334.00 C297.08,335.26 300.86,334.91 305.00,335.20 C309.94,335.55 315.87,335.60 321.30,335.80" fill="none" stroke="#3040ff" stroke-width="1.05" stroke-linejoin="round" stroke-linecap="round"/>
<path d="M191.60,335.00 C192.73,334.60 193.69,334.30 195.00,333.80 C196.85,333.10 199.71,332.66 201.60,331.10 C203.82,329.27 205.58,325.95 207.00,322.90 C208.54,319.60 209.36,315.94 210.30,311.90 C211.42,307.12 212.10,301.22 213.00,296.00 C213.87,290.93 214.81,285.49 215.60,281.00 C216.25,277.33 216.81,273.21 217.40,271.00 C217.70,269.87 217.97,268.50 218.30,268.50 C218.69,268.50 219.19,270.51 219.60,272.00 C220.28,274.46 220.90,277.92 221.50,282.00 C222.42,288.33 222.54,299.93 224.00,306.40 C225.00,310.86 226.48,314.59 227.90,317.40 C228.88,319.34 229.58,320.82 231.00,322.00 C232.54,323.28 235.07,324.50 237.00,324.60 C238.73,324.69 240.35,323.55 242.00,323.00 C243.64,322.45 245.00,321.74 246.90,321.30 C249.38,320.72 252.73,320.21 255.70,320.20 C258.76,320.19 261.68,320.98 265.00,321.30 C268.81,321.66 274.10,320.99 277.30,322.20 C279.76,323.13 281.02,324.98 283.10,326.60 C285.59,328.54 287.91,331.68 291.20,333.10 C295.01,334.74 300.20,334.55 305.00,335.00 C310.20,335.48 315.87,335.53 321.30,335.80" fill="none" stroke="#20a020" stroke-width="1.05" stroke-linejoin="round" stroke-linecap="round"/>
<path d="M191.60,333.80 C192.73,333.27 193.67,332.78 195.00,332.20 C196.83,331.40 199.79,330.98 201.60,329.50 C203.50,327.94 204.78,325.42 206.00,322.90 C207.39,320.02 208.23,316.80 209.20,313.00 C210.47,308.03 211.46,301.16 212.50,295.50 C213.48,290.18 214.44,284.53 215.30,280.00 C215.98,276.44 216.55,272.57 217.20,270.50 C217.53,269.45 217.84,268.20 218.20,268.20 C218.60,268.20 219.08,269.77 219.50,271.00 C220.22,273.12 220.80,276.64 221.50,280.00 C222.38,284.25 223.81,290.13 224.30,294.50 C224.69,298.04 223.87,301.02 224.60,304.20 C225.37,307.56 227.41,311.37 229.00,314.10 C230.25,316.25 231.47,318.40 233.00,319.50 C234.21,320.37 235.75,320.97 237.00,320.80 C238.25,320.63 239.35,319.51 240.50,318.50 C241.93,317.24 243.31,315.31 244.70,313.60 C246.15,311.81 247.40,309.41 249.00,308.00 C250.38,306.79 251.99,305.46 253.50,305.40 C254.96,305.34 256.59,306.53 257.90,307.50 C259.27,308.51 260.09,310.00 261.50,311.40 C263.32,313.20 265.47,315.75 268.00,317.30 C270.69,318.94 274.66,319.31 277.30,320.80 C279.58,322.09 281.03,323.68 283.10,325.40 C285.60,327.47 287.88,330.87 291.20,332.40 C294.99,334.15 300.20,334.00 305.00,334.50 C310.19,335.04 315.87,335.10 321.30,335.40" fill="none" stroke="#ff2020" stroke-width="1.05" stroke-linejoin="round" stroke-linecap="round"/>
<path d="M191.60,328.50 C192.73,327.53 193.75,326.64 195.00,325.60 C196.50,324.34 198.37,322.95 200.00,321.50 C201.67,320.02 203.65,318.49 204.90,316.80 C206.01,315.30 206.60,313.69 207.30,312.00 C208.04,310.23 208.56,308.63 209.20,306.40 C210.12,303.19 211.09,298.67 212.00,294.50 C213.00,289.91 214.02,284.26 214.90,280.00 C215.59,276.64 216.14,273.31 216.80,271.00 C217.22,269.51 217.63,267.42 218.10,267.40 C218.54,267.38 219.04,269.16 219.50,270.50 C220.28,272.78 220.93,276.50 221.80,280.00 C222.88,284.33 224.30,290.65 225.50,294.50 C226.32,297.12 226.86,298.79 227.90,301.00 C229.07,303.48 230.86,306.91 232.30,308.60 C233.21,309.67 233.92,310.33 235.00,310.80 C236.19,311.32 237.85,311.54 239.20,311.40 C240.52,311.26 241.76,310.67 243.00,310.00 C244.37,309.25 245.58,307.77 247.00,307.00 C248.36,306.26 249.95,305.60 251.30,305.40 C252.43,305.23 253.44,305.36 254.50,305.60 C255.64,305.86 256.83,306.25 257.90,307.00 C259.19,307.91 260.33,309.63 261.50,311.00 C262.69,312.39 263.58,314.22 265.00,315.30 C266.41,316.38 268.33,316.86 270.00,317.50 C271.63,318.12 273.25,318.29 274.90,319.10 C276.84,320.05 279.07,321.63 280.80,323.10 C282.40,324.45 283.38,326.13 285.00,327.50 C286.80,329.02 289.00,330.70 291.20,331.70 C293.34,332.67 295.68,333.07 298.00,333.50 C300.35,333.94 302.32,334.04 305.20,334.30 C309.50,334.69 315.93,335.03 321.30,335.40" fill="none" stroke="#222" stroke-width="1.05" stroke-linejoin="round" stroke-linecap="round"/>
<text x="0" y="0" font-size="20.6" text-anchor="start" transform="translate(1.2 15.8) scale(0.94 1)" style="stroke-width:0.1px">A</text>
<text x="0" y="0" font-size="20.8" text-anchor="start" transform="translate(1.8 237.8) scale(0.92 1)">B</text>
<text x="0" y="0" font-size="14.6" text-anchor="end" transform="translate(81.3 177.6) scale(0.9 1)">0.0</text>
<text x="0" y="0" font-size="14.6" text-anchor="end" transform="translate(81.3 115.0) scale(0.9 1)">0.5</text>
<text x="0" y="0" font-size="14.6" text-anchor="end" transform="translate(81.3 51.9) scale(0.9 1)">1.0</text>
<text x="0" y="0" font-size="13.9" text-anchor="middle" transform="translate(117.0 207.6) scale(0.93 1)">400</text>
<text x="0" y="0" font-size="13.9" text-anchor="middle" transform="translate(175.9 207.6) scale(0.93 1)">500</text>
<text x="0" y="0" font-size="13.9" text-anchor="middle" transform="translate(234.7 207.6) scale(0.93 1)">600</text>
<text x="0" y="0" font-size="13.9" text-anchor="middle" transform="translate(293.6 207.6) scale(0.93 1)">700</text>
<text x="0" y="0" font-size="13.2" text-anchor="middle" transform="translate(204.5 225.8)">λ (nm)</text>
<text x="0" y="0" font-size="13.45" text-anchor="middle" transform="translate(45.0 104.5) rotate(-90)">Normalized absorbance</text>
<text x="0" y="0" font-size="10.2" text-anchor="middle" transform="translate(193.0 126.9) scale(0.96 1)">600</text>
<text x="0" y="0" font-size="10.2" text-anchor="middle" transform="translate(235.7 126.9) scale(0.96 1)">650</text>
<text x="0" y="0" font-size="10.2" text-anchor="middle" transform="translate(279.4 126.9) scale(0.96 1)">700</text>
<text x="0" y="0" font-size="9.6" text-anchor="middle" transform="translate(257.6 139.6)">λ (nm)</text>
<text x="0" y="0" font-size="10.3" text-anchor="start" transform="translate(326.6 25.9) scale(0.92 1)">0.10</text>
<text x="0" y="0" font-size="10.3" text-anchor="start" transform="translate(326.6 67.3) scale(0.92 1)">0.05</text>
<text x="0" y="0" font-size="10.3" text-anchor="start" transform="translate(326.6 108.8) scale(0.92 1)">0.00</text>
<text x="0" y="0" font-size="10.8" text-anchor="middle" transform="translate(356.3 66) rotate(90) scale(0.91 1)">Normalized absorbance</text>
<text x="0" y="0" font-size="14.6" text-anchor="end" transform="translate(81.3 407.70000000000005) scale(0.9 1)">0</text>
<text x="0" y="0" font-size="14.4" text-anchor="end" transform="translate(76.3 366.1) scale(0.93 1)">5.0<tspan font-size="13">×</tspan>10</text>
<text x="0" y="0" font-size="10" text-anchor="start" transform="translate(76.5 362.2) scale(0.93 1)">5</text>
<text x="0" y="0" font-size="14.4" text-anchor="end" transform="translate(76.3 324.3) scale(0.93 1)">1.0<tspan font-size="13">×</tspan>10</text>
<text x="0" y="0" font-size="10" text-anchor="start" transform="translate(76.5 320.4) scale(0.93 1)">6</text>
<text x="0" y="0" font-size="14.4" text-anchor="end" transform="translate(76.3 282.5) scale(0.93 1)">1.5<tspan font-size="13">×</tspan>10</text>
<text x="0" y="0" font-size="10" text-anchor="start" transform="translate(76.5 278.59999999999997) scale(0.93 1)">6</text>
<text x="0" y="0" font-size="13.9" text-anchor="middle" transform="translate(87.5 437.3) scale(0.93 1)">600</text>
<text x="0" y="0" font-size="13.9" text-anchor="middle" transform="translate(165.5 437.3) scale(0.93 1)">650</text>
<text x="0" y="0" font-size="13.9" text-anchor="middle" transform="translate(243.5 437.3) scale(0.93 1)">700</text>
<text x="0" y="0" font-size="13.9" text-anchor="middle" transform="translate(321.3 437.3) scale(0.93 1)">750</text>
<text x="0" y="0" font-size="13.2" text-anchor="middle" transform="translate(204.4 455.4)">λ (nm)</text>
<text x="0" y="0" font-size="13.9" text-anchor="middle" transform="translate(22.8 333.7) rotate(-90)">Intensity (counts)</text>
<text x="0" y="0" font-size="10.2" text-anchor="middle" transform="translate(191.6 358.6) scale(0.96 1)">600</text>
<text x="0" y="0" font-size="10.2" text-anchor="middle" transform="translate(234.8 358.6) scale(0.96 1)">650</text>
<text x="0" y="0" font-size="10.2" text-anchor="middle" transform="translate(278.3 358.6) scale(0.96 1)">700</text>
<text x="0" y="0" font-size="9.6" text-anchor="middle" transform="translate(256.3 371.2)">λ (nm)</text>
<text x="0" y="0" font-size="10.3" text-anchor="start" transform="translate(325.5 270.8) scale(0.92 1)">1.0</text>
<text x="0" y="0" font-size="10.3" text-anchor="start" transform="translate(325.5 305.6) scale(0.92 1)">0.5</text>
<text x="0" y="0" font-size="10.3" text-anchor="start" transform="translate(325.5 340.5) scale(0.92 1)">0.0</text>
<text x="0" y="0" font-size="10.8" text-anchor="middle" transform="translate(356.3 297.7) rotate(90) scale(0.91 1)">Normalized intensity</text>
</svg>
</body></html>
